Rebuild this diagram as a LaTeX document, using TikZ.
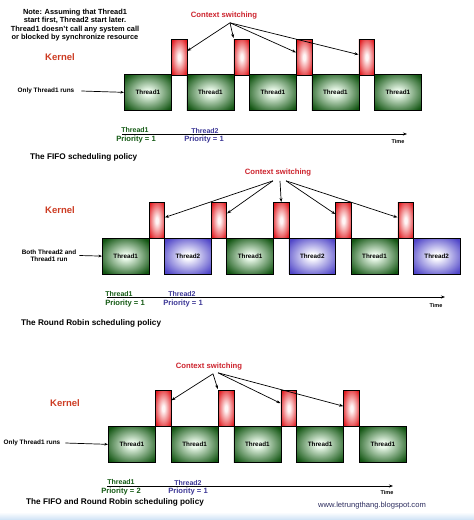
\documentclass[tikz,border=0pt]{standalone}
\usepackage{fontspec}
\setmainfont{Liberation Sans}
\usetikzlibrary{calc,arrows.meta}
\definecolor{gdark}{RGB}{18,85,18}
\definecolor{glight}{RGB}{235,250,235}
\definecolor{rdark}{RGB}{225,25,30}
\definecolor{rlight}{RGB}{255,245,245}
\definecolor{bdark}{RGB}{80,70,200}
\definecolor{blight}{RGB}{252,252,255}
\definecolor{csred}{RGB}{205,35,45}
\definecolor{kred}{RGB}{205,60,35}
\definecolor{tgreen}{RGB}{20,90,20}
\definecolor{tblue}{RGB}{60,55,150}
\definecolor{urlc}{RGB}{45,45,95}
\definecolor{stripb}{RGB}{205,225,245}
\pgfdeclareradialshading{gglow}{\pgfpoint{0bp}{0bp}}{color(0bp)=(glight); color(4bp)=(glight); color(32bp)=(gdark); color(50bp)=(gdark)}
\pgfdeclareradialshading{rglow}{\pgfpoint{0bp}{0bp}}{color(0bp)=(rlight); color(4bp)=(rlight); color(32bp)=(rdark); color(50bp)=(rdark)}
\pgfdeclareradialshading{bglow}{\pgfpoint{0bp}{0bp}}{color(0bp)=(blight); color(4bp)=(blight); color(32bp)=(bdark); color(50bp)=(bdark)}
\begin{document}
\begin{tikzpicture}[x=1pt,y=-1pt,
  box/.style={draw=black, line width=0.7pt, anchor=north west, inner sep=0pt,
    font=\fontsize{6.3}{7}\selectfont\bfseries},
  boxg/.style={box, shading=gglow, minimum width=47pt, minimum height=36pt},
  boxb/.style={box, shading=bglow, minimum width=47pt, minimum height=36pt},
  redbox/.style={box, shading=rglow, minimum width=#1, minimum height=35.5pt},
  redbox/.default=15.5pt,
  cstext/.style={text=csred, font=\fontsize{7.7}{8}\selectfont\bfseries, inner sep=0pt},
  kern/.style={text=kred, font=\fontsize{9.5}{10}\selectfont\bfseries, inner sep=0pt},
  csarrow/.style={line width=0.7pt, -{Stealth[length=4pt,width=3pt]}},
  larrow/.style={line width=0.7pt, -{Stealth[length=3.5pt,width=2.6pt]}},
  axis/.style={line width=0.9pt, -{Stealth[length=4pt,width=3pt]}},
  small/.style={font=\fontsize{6.4}{7}\selectfont\bfseries, inner sep=0pt},
  lbl/.style={font=\fontsize{7}{7.5}\selectfont\bfseries, inner sep=0pt},
  prio/.style={font=\fontsize{7.6}{8}\selectfont\bfseries, inner sep=0pt},
  timet/.style={font=\fontsize{5.5}{6}\selectfont\bfseries, inner sep=0pt},
  ttl/.style={font=\fontsize{8.2}{9}\selectfont\bfseries, inner sep=0pt, anchor=west}]
\useasboundingbox (0,0) rectangle (474,520);
\fill[white] (0,0) rectangle (474,520);
\fill[top color=white, bottom color=stripb] (0,512) rectangle (474,520);

% ================= Panel 1 =================
\node[font=\fontsize{7.4}{8.2}\selectfont\bfseries, align=center, inner sep=0pt] (note) at (75,25)
  {Note: Assuming that Thread1\\start first, Thread2 start later.\\Thread1 doesn't call any system call\\or blocked by synchronize resource};
\node[kern] (k1) at (60,57) {Kernel};
\node[cstext] (cs1) at (224,16) {Context switching};
\foreach \i in {1,...,5}
  \node[boxg] (p1g\i) at ({124+(\i-1)*62.5},74) {Thread1};
\foreach \i in {1,...,4}
  \node[redbox] (p1r\i) at ({171+(\i-1)*62.5},39) {};
\coordinate (o1) at ($(cs1.south)+(6,3)$);
\draw[csarrow] (o1) -- ($(p1r1.north east)!0.33!(p1r1.south east)$);
\draw[csarrow] (o1) -- ($(p1r2.north west)+(0,-1)$);
\draw[csarrow] (o1) -- ($(p1r3.north west)!0.37!(p1r3.south west)$);
\draw[csarrow] (o1) -- ($(p1r4.north west)!0.43!(p1r4.south west)$);
\node[small] (l1) at (46,91) {Only Thread1 runs};
\draw[larrow] ([xshift=7pt]l1.east) -- (p1g1.west);
\coordinate (t1s) at (122,134);
\coordinate (t1e) at (407,134);
\draw[axis] (t1s) -- (t1e);
\node[lbl, text=tgreen] (a1) at (135,130) {Thread1};
\node[prio, text=tgreen] (b1) at (136,139.5) {Priority = 1};
\node[lbl, text=tblue] (c1) at (205,130.5) {Thread2};
\node[prio, text=tblue] (d1) at (204,140) {Priority = 1};
\node[timet] (tm1) at (398,142) {Time};
\node[ttl] (ti1) at (30,157) {The FIFO scheduling policy};

% ================= Panel 2 =================
\node[kern] (k2) at (60,210) {Kernel};
\node[cstext] (cs2) at (278,173) {Context switching};
\foreach \i/\c/\t in {1/g/Thread1,2/b/Thread2,3/g/Thread1,4/b/Thread2,5/g/Thread1,6/b/Thread2}
  \node[box\c, minimum width=46.7pt, minimum height=35.5pt] (p2g\i) at ({102+(\i-1)*62.2},238) {\t};
\foreach \i in {1,...,5}
  \node[redbox, minimum height=36pt] (p2r\i) at ({148.7+(\i-1)*62.2},202) {};
\coordinate (o2a) at ($(cs2.south)+(-5,4)$);
\coordinate (o2b) at ($(cs2.south)+(2,4)$);
\coordinate (o2c) at ($(cs2.south)+(8,4)$);
\draw[csarrow] (o2a) -- ($(p2r1.north east)!0.42!(p2r1.south east)$);
\draw[csarrow] (o2a) -- ($(p2r2.north east)!0.31!(p2r2.south east)$);
\draw[csarrow] (o2b) -- (p2r3.north);
\draw[csarrow] (o2c) -- ($(p2r4.north west)!0.33!(p2r4.south west)$);
\draw[csarrow] (o2c) -- ($(p2r5.north west)!0.42!(p2r5.south west)$);
\node[small, align=center] (l2) at (49,255.5) {Both Thread2 and\\Thread1 run};
\draw[larrow] ([xshift=3pt]l2.east) -- (p2g1.west);
\coordinate (t2s) at (107,297);
\coordinate (t2e) at (445,297);
\draw[axis] (t2s) -- (t2e);
\node[lbl, text=tgreen] (a2) at (119,293.5) {Thread1};
\node[prio, text=tgreen] (b2) at (125,304) {Priority = 1};
\node[lbl, text=tblue] (c2) at (182,294) {Thread2};
\node[prio, text=tblue] (d2) at (183,304) {Priority = 1};
\node[timet] (tm2) at (436,306) {Time};
\node[ttl] (ti2) at (21,323) {The Round Robin scheduling policy};

% ================= Panel 3 =================
\node[kern] (k3) at (65,403) {Kernel};
\node[cstext] (cs3) at (209,367) {Context switching};
\foreach \i in {1,...,5}
  \node[boxg] (p3g\i) at ({108+(\i-1)*62.75},426) {Thread1};
\foreach \i in {1,...,4}
  \node[redbox=15.75pt, minimum height=36pt] (p3r\i) at ({155+(\i-1)*62.75},390) {};
\coordinate (o3a) at ($(cs3.south)+(4,3)$);
\coordinate (o3b) at ($(cs3.south)+(9,2)$);
\draw[csarrow] (o3a) -- ($(p3r1.north east)!0.28!(p3r1.south east)$);
\draw[csarrow] (o3a) -- ($(p3r2.north west)+(0,-1)$);
\draw[csarrow] (o3b) -- ($(p3r3.north west)!0.36!(p3r3.south west)$);
\draw[csarrow] (o3b) -- ($(p3r4.north west)!0.44!(p3r4.south west)$);
\node[small] (l3) at (32,443) {Only Thread1 runs};
\draw[larrow] ([xshift=5pt]l3.east) -- (p3g1.west);
\coordinate (t3s) at (107,486);
\coordinate (t3e) at (393,486);
\draw[axis] (t3s) -- (t3e);
\node[lbl, text=tgreen] (a3) at (121,482) {Thread1};
\node[prio, text=tgreen] (b3) at (121,491.5) {Priority = 2};
\node[lbl, text=tblue] (c3) at (188,482.5) {Thread2};
\node[prio, text=tblue] (d3) at (188,492) {Priority = 1};
\node[timet] (tm3) at (387,493) {Time};
\node[ttl] (ti3) at (26,502) {The FIFO and Round Robin scheduling policy};
\node[font=\fontsize{7.6}{8}\selectfont, text=urlc, inner sep=0pt] (url) at (372,506) {www.letrungthang.blogspot.com};
\end{tikzpicture}
\end{document}
